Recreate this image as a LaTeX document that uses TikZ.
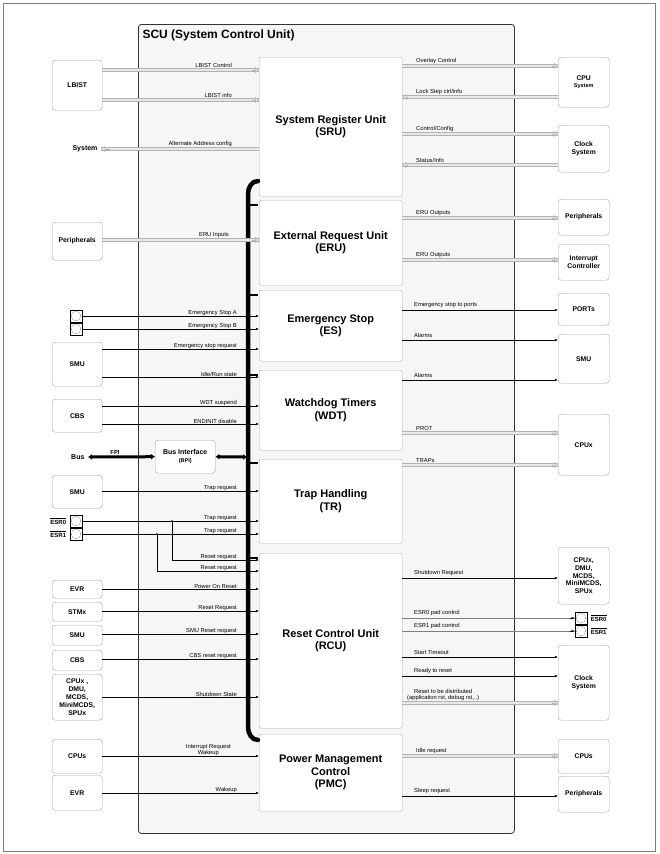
\documentclass[tikz,border=0pt]{standalone}
\usepackage{fontspec}
\setmainfont{Liberation Sans}
\usetikzlibrary{arrows.meta,calc}
\tikzset{
 every node/.style={font=\fontsize{5.8}{6.5}\selectfont},
 obox/.style={draw=gray!70, fill=white, rounded corners=3pt, font=\fontsize{6.8}{7.8}\selectfont\bfseries, align=center, inner sep=1pt},
 blk/.style={draw=gray!60, fill=white, rounded corners=2pt, font=\fontsize{11}{12.5}\selectfont\bfseries, align=center},
 sig/.style={-{Latex[length=3pt,width=2.5pt]}, line width=0.6pt},
 gsig/.style={line width=4pt, draw=gray!60, postaction={draw=gray!18, line width=2.8pt}},
 gtip/.style={-{Triangle[open,length=4pt,width=6pt]}, draw=gray!60, line width=0.5pt},
 lab/.style={above, inner sep=1pt},
 pad/.style={draw, line width=0.7pt, minimum size=12pt, inner sep=0pt, fill=white},
}
\newcommand\padsym[2]{\node[pad] (#1) at #2 {}; \draw[gray!80, line width=0.5pt, dash pattern=on 2pt off 0.8pt] (#1) circle (4.8pt);}
\begin{document}
\begin{tikzpicture}[x=1pt,y=-1pt]
\useasboundingbox (0,0) rectangle (659,854);
\draw[gray] (3,3) rectangle (655,851);
% SCU
\node[draw=black!80, line width=0.8pt, fill=gray!7, rounded corners=3pt, minimum width=376, minimum height=809, anchor=north west, inner sep=0] (scu) at (138,24) {};
\node[anchor=north west, font=\fontsize{12}{13}\selectfont\bfseries] (scut) at (139,26) {SCU (System Control Unit)};
% blocks
\node[blk, minimum width=143, minimum height=139, anchor=north west] (sru) at (259,57) {System Register Unit\\(SRU)};
\node[blk, minimum width=143, minimum height=85, anchor=north west] (eru) at (259,200) {External Request Unit\\(ERU)};
\node[blk, minimum width=143, minimum height=71, anchor=north west] (es) at (259,290) {Emergency Stop\\(ES)};
\node[blk, minimum width=143, minimum height=80, anchor=north west] (wdt) at (259,370) {Watchdog Timers\\(WDT)};
\node[blk, minimum width=143, minimum height=84, anchor=north west] (tr) at (259,459) {Trap Handling\\(TR)};
\node[blk, minimum width=143, minimum height=175, anchor=north west] (rcu) at (259,553) {Reset Control Unit\\(RCU)};
\node[blk, minimum width=143, minimum height=77, anchor=north west] (pmc) at (259,734) {Power Management\\Control\\(PMC)};
% bus
\draw[line width=4.5pt, line cap=round] (258,181) to[out=180,in=90] (248,194) -- (248,727) to[out=-90,in=180] (258,740);
\foreach \y in {205,295,375,463,558} \draw[line width=1.5pt] (248,\y) -- (258,\y);
% left boxes
\newcommand\lbox[4]{\node[obox, minimum width=50, minimum height=#3, anchor=north west] (#1) at (52,#2) {#4};}
\lbox{lbist}{60}{50}{LBIST}
\lbox{lper}{222}{38}{Peripherals}
\lbox{smua}{342}{44}{SMU}
\lbox{cbsa}{399}{33}{CBS}
\lbox{smub}{475}{33}{SMU}
\lbox{evra}{580}{18}{EVR}
\lbox{stm}{602}{19}{STMx}
\lbox{smuc}{625}{20}{SMU}
\lbox{cbsb}{650}{20}{CBS}
\lbox{cpul}{674}{46}{CPUx ,\\DMU,\\MCDS,\\MiniMCDS,\\SPUx}
\lbox{cpusl}{739}{34}{CPUs}
\lbox{evrb}{775}{35}{EVR}
\padsym{pa}{(76,316)}
\padsym{pb}{(76,329)}
\padsym{pe0}{(76,521)}
\padsym{pe1}{(76,534)}
\node[anchor=east, font=\fontsize{6}{6.5}\selectfont\bfseries] (le0) at (pe0.west) {$\overline{\hbox{ESR0}}$};
\node[anchor=east, font=\fontsize{6}{6.5}\selectfont\bfseries] (le1) at (pe1.west) {$\overline{\hbox{ESR1}}$};
\node[font=\fontsize{7}{7.5}\selectfont\bfseries, anchor=east] (sys) at (101,149) {System};
\node[font=\fontsize{7}{7.5}\selectfont\bfseries, anchor=east] (bus) at (88,457) {Bus};
\node[obox, minimum width=60, minimum height=33, anchor=north west, font=\fontsize{7}{8.5}\selectfont\bfseries] (bpi) at (155,440) {Bus Interface\\{\fontsize{5.5}{6}\selectfont (BPI)}};
% right boxes
\newcommand\rbox[4]{\node[obox, minimum width=51, minimum height=#3, anchor=north west] (#1) at (558,#2) {#4};}
\rbox{cpus}{57}{50}{CPU\\{\fontsize{5.5}{6}\selectfont System}}
\rbox{clka}{125}{47}{Clock\\System}
\rbox{rper}{199}{36}{Peripherals}
\rbox{irq}{244}{36}{Interrupt\\Controller}
\rbox{ports}{293}{32}{PORTs}
\rbox{smur}{334}{49}{SMU}
\rbox{cpux}{414}{61}{CPUx}
\rbox{cpur}{547}{57}{CPUx,\\DMU,\\MCDS,\\MiniMCDS,\\SPUx}
\rbox{clkb}{645}{75}{Clock\\System}
\rbox{cpusr}{739}{34}{CPUs}
\rbox{rperb}{776}{36}{Peripherals}
\padsym{re0}{(581,618)}
\padsym{re1}{(581,631)}
\node[anchor=west, font=\fontsize{6}{6.5}\selectfont\bfseries] (lr0) at (re0.east) {$\overline{\hbox{ESR0}}$};
\node[anchor=west, font=\fontsize{6}{6.5}\selectfont\bfseries] (lr1) at (re1.east) {$\overline{\hbox{ESR1}}$};
% left gray signals
\draw[gsig] (lbist.east|-0,70) -- (sru.west|-0,70); \draw[gtip] (252,70) -- (sru.west|-0,70);
\node[lab, anchor=south east] (l1) at (233,69) {LBIST Control};
\draw[gsig] (lbist.east|-0,100) -- (sru.west|-0,100); \draw[gtip] (252,100) -- (sru.west|-0,100);
\node[lab, anchor=south east] (l2) at (233,99) {LBIST info};
\draw[gsig] (sru.west|-0,149) -- (sys.east|-0,149); \draw[gtip] (110,149) -- (sys.east|-0,149);
\node[lab, anchor=south east] (l3) at (233,148) {Alternate Address config};
\draw[gsig] (lper.east|-0,240) -- (eru.west|-0,240); \draw[gtip] (252,240) -- (eru.west|-0,240);
\node[lab, anchor=south east] (l4) at (230,239) {ERU Inputs};
% left black signals
\newcommand\lsig[4]{\draw[sig] (#1.east|-0,#2) -- (#3.west|-0,#2); \node[lab, anchor=south east] at (238,#2+1) {#4};}
\lsig{pa}{316}{es}{Emergency Stop A}
\lsig{pb}{329}{es}{Emergency Stop B}
\lsig{smua}{349}{es}{Emergency stop request}
\lsig{smua}{377}{wdt}{Idle/Run state}
\lsig{cbsa}{406}{wdt}{WDT suspend}
\lsig{cbsa}{424}{wdt}{ENDINIT disable}
\lsig{smub}{491}{tr}{Trap request}
\lsig{pe0}{521}{tr}{Trap request}
\lsig{pe1}{534}{tr}{Trap request}
\draw[sig] (172,521) |- (rcu.west|-0,560); \node[lab, anchor=south east] at (238,561) {Reset request};
\draw[sig] (157,534) |- (rcu.west|-0,571); \node[lab, anchor=south east] at (238,572) {Reset request};
\fill (172,521) circle (0.8pt); \fill (157,534) circle (0.8pt);
\lsig{evra}{589}{rcu}{Power On Reset}
\lsig{stm}{611}{rcu}{Reset Request}
\lsig{smuc}{634}{rcu}{SMU Reset request}
\lsig{cbsb}{659}{rcu}{CBS reset request}
\lsig{cpul}{697}{rcu}{Shutdown State}
\draw[sig] (cpusl.east|-0,756) -- (pmc.west|-0,756); \node[lab, anchor=south east, align=center] at (232,757) {Interrupt Request\\Wakeup};
\lsig{evrb}{793}{pmc}{Wakeup}
% bus
\draw[line width=3pt, {Latex[length=4pt,width=6pt]}-{Latex[length=4pt,width=6pt]}] (bus.east) -- (bpi.west);
\node[lab, font=\fontsize{5.8}{6}\selectfont\bfseries] at (115,456) {FPI};
\draw[line width=3pt, {Latex[length=4pt,width=6pt]}-{Latex[length=4pt,width=6pt]}] (bpi.east) -- (247,457);
% right gray signals
\newcommand\rg[4]{\draw[gsig] (#1.east|-0,#2) -- (#3.west|-0,#2); \draw[gtip] ($(#3.west|-0,#2)+(-6,0)$) -- (#3.west|-0,#2); \node[lab, anchor=south west] at (415,#2-1) {#4};}
\newcommand\rgl[4]{\draw[gsig] (#3.west|-0,#2) -- (#1.east|-0,#2); \draw[gtip] ($(#1.east|-0,#2)+(6,0)$) -- (#1.east|-0,#2); \node[lab, anchor=south west] at (415,#2-1) {#4};}
\rg{sru}{66}{cpus}{Overlay Control}
\rgl{sru}{97}{cpus}{Lock Step ctrl/info}
\rg{sru}{134}{clka}{Control/Config}
\rgl{sru}{165}{clka}{Status/Info}
\rg{eru}{218}{rper}{ERU Outputs}
\rg{eru}{260}{irq}{ERU Outputs}
\rg{wdt}{433}{cpux}{PROT}
\rg{tr}{465}{cpux}{TRAPs}
\rg{rcu}{703}{clkb}{}
\node[lab, anchor=south west, align=center] at (406,702) {Reset to be distributed\\(application rst, debug rst,..)};
\rg{pmc}{756}{cpusr}{Idle request}
% right black
\newcommand\rs[4]{\draw[sig] (#1.east|-0,#2) -- (#3.west|-0,#2); \node[lab, anchor=south west] at (413,#2-1) {#4};}
\rs{es}{310}{ports}{Emergency stop to ports}
\rs{es}{340}{smur}{Alarms}
\rs{wdt}{380}{smur}{Alarms}
\rs{rcu}{578}{cpur}{Shutdown Request}
\draw[gray, line width=0.6pt] (rcu.east|-0,618) -- (re0.west); \draw[sig] (570,618) -- (re0.west); \node[lab, anchor=south west] at (413,617) {ESR0 pad control};
\draw[gray, line width=0.6pt] (rcu.east|-0,631) -- (re1.west); \draw[sig] (570,631) -- (re1.west); \node[lab, anchor=south west] at (413,630) {ESR1 pad control};
\rs{rcu}{657}{clkb}{Start Timeout}
\rs{rcu}{676}{clkb}{Ready to reset}
\rs{pmc}{796}{rperb}{Sleep request}
\end{tikzpicture}
\end{document}
